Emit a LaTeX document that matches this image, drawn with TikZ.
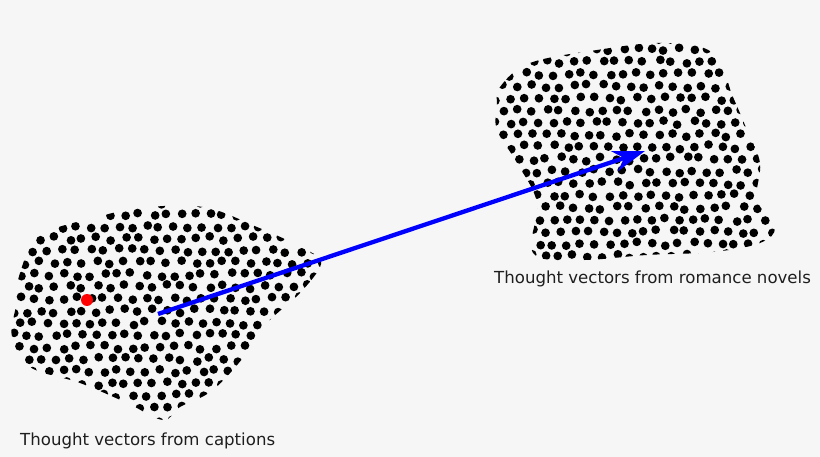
\documentclass[tikz,border=0pt]{standalone}
\usepackage{fontspec}
\setmainfont{DejaVu Sans}
\usetikzlibrary{arrows.meta}
\definecolor{paper}{HTML}{F6F6F6}
\definecolor{vecblue}{rgb}{0, 0, 1}
\definecolor{inkgray}{HTML}{1E1E1E}
\tikzset{
  spacelabel/.style={anchor=base west, inner sep=0pt, text=inkgray,
    font=\fontsize{16.6}{20}\selectfont},
  thought/.style={fill=black},
}
% jittered hexagonal field of dots: x0, y0, rows, cols
\newcommand{\dotfield}[4]{%
  \foreach \row in {0,...,#3} {
    \foreach \col in {0,...,#4} {
      \pgfmathsetmacro{\dx}{mod(\row,2)*7 + 2.4*rand}
      \pgfmathsetmacro{\dy}{2.4*rand}
      \fill[thought] (#1+\col*14+\dx, #2+\row*12.1+\dy) circle[radius=4.35];
    }
  }%
}

\begin{document}
\begin{tikzpicture}[x=1pt, y=-1pt]

% Background
\fill[paper] (0,0) rectangle (820,457);
\useasboundingbox (0,0) rectangle (820,457);
\pgfmathsetseed{20}

%%%%%%%%%%%%%%
% Captions
%%%%%%%%%%%%%%
\begin{scope}
  \clip plot[smooth cycle, tension=0.6] coordinates {
    (18,280) (32,243) (50,230) (93,218) (140,208) (203,207)
    (257,227) (307,250) (321,264) (300,293) (267,323) (247,353)
    (213,390) (180,407) (163,420) (127,403) (80,383) (30,367)
    (12,337) (16,305)};
  \dotfield{6}{202}{18}{23}
\end{scope}

%%%%%%%%%%%%%%
% Romance novels
%%%%%%%%%%%%%%
\begin{scope}
  \clip plot[smooth cycle, tension=0.6] coordinates {
    (500,87) (530,63) (597,50) (663,43) (713,53) (733,97)
    (747,130) (760,163) (757,200) (775,227) (760,243) (713,252)
    (647,255) (580,260) (533,253) (537,203) (517,163) (497,130)
    (497,107)};
  \dotfield{490}{38}{19}{21}
\end{scope}

% points
\node[circle, fill=red, inner sep=0pt, minimum size=12] (caption) at (87,300) {};
\coordinate (start) at (158,314);
\coordinate (tip) at (645,151);

% vector
\draw[-{Stealth[length=32pt, width=21pt, inset=10pt]}, line width=4.3pt, vecblue]
  (start) -- (tip);

% Labels
\node[spacelabel] (captions) at (20,445) {Thought vectors from captions};
\node[spacelabel] (novels) at (494,284) {Thought vectors from romance novels};

\end{tikzpicture}
\end{document}
